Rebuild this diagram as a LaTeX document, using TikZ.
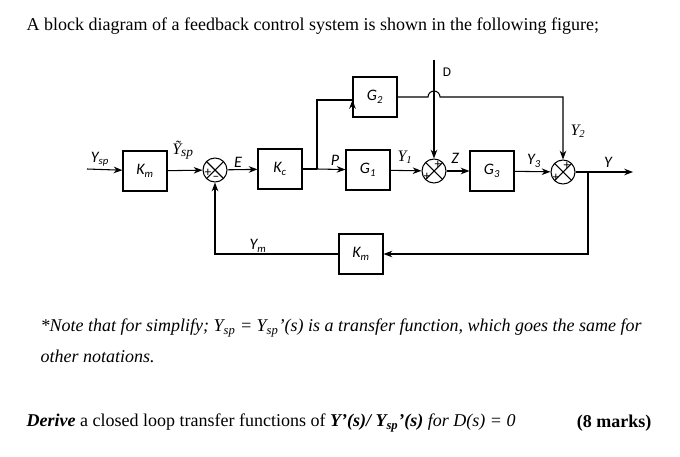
\documentclass[tikz,border=0pt]{standalone}
\usepackage{fontspec}
\setmainfont{Liberation Serif}
\newfontfamily\dgm{Carlito}
\usetikzlibrary{arrows.meta}

\begin{document}
\begin{tikzpicture}[x=0.75pt,y=-0.75pt,
    blk/.style={draw,thick,minimum width=33pt,minimum height=30pt,font=\dgm\itshape\large},
    sum/.style={circle,draw,thick,minimum size=18pt,inner sep=0pt,
        path picture={\draw (path picture bounding box.north west) -- (path picture bounding box.south east)
                            (path picture bounding box.north east) -- (path picture bounding box.south west);}},
    lbl/.style={font=\dgm\itshape\large},
    sgn/.style={font=\dgm,inner sep=0pt},
    >={Stealth[black]}]
\useasboundingbox (0,0) rectangle (680,456);

\node[anchor=west,font=\fontsize{13.5}{16}\selectfont] (title) at (22,26)
    {A block diagram of a feedback control system is shown in the following figure;};

\begin{scope}[every node/.style={blk}]
    \node (km1) at (145,171) {K\textsubscript{m}};
    \node (kc) at (280,169) {K\textsubscript{c}};
    \node (g2) at (375,97) {G\textsubscript{2}};
    \node (g1) at (368,170) {G\textsubscript{1}};
    \node (g3) at (492,171) {G\textsubscript{3}};
    \node (km2) at (361,254) {K\textsubscript{m}};
\end{scope}

\node[sum] (s1) at (215,170) {};
\node[sum] (s2) at (434,171) {};
\node[sum] (s3) at (563,172) {};
\node[sgn] at (208,173) {+};
\node[sgn] at (216,178) {\textendash};
\node[sgn] at (438,165) {+};
\node[sgn] at (427,177) {+};
\node[sgn] at (567,166) {+};
\node[sgn] at (556,178) {+};

\coordinate (in) at (87,169);
\coordinate (br) at (317,169);
\coordinate (dtop) at (434,60);
\coordinate (hop) at (428,97);
\coordinate (ybr) at (588,172);
\coordinate (out) at (633,172);

\begin{scope}[thick]
    \draw[->] (in) -- (km1);
    \draw[->] (km1) -- (s1);
    \draw[->] (s1) -- (kc);
    \draw (kc) -- (br);
    \draw[->] (br) -- (g1);
    \draw[->] (br) |- (g2.west |- 0,100) -- (g2.west |- 0,100);
    \draw[->] (g1) -- (s2);
    \draw[->] (dtop) -- (s2);
    \draw[->] (s2) -- (g3);
    \draw[->] (g3) -- (s3);
    \draw[->] (g2) -- (hop) arc (180:360:6) -| (s3);
    \draw[->] (s3) -- (out);
    \draw[->] (ybr) |- (km2);
    \draw[->] (km2) -| (s1);
\end{scope}

\node[lbl] at (100,159) {Y\textsubscript{sp}};
\node[font=\large\itshape] at (183,150) {\~{Y}\textsubscript{\normalsize sp}};
\node[lbl] at (238,162) {E};
\node[lbl] at (335,160) {P};
\node[font=\large\itshape] at (405,157) {Y\textsubscript{1}};
\node[font=\dgm] at (447,72) {D};
\node[lbl] at (455,158) {Z};
\node[lbl] at (534,161) {Y\textsubscript{3}};
\node[font=\large\itshape] at (578,131) {Y\textsubscript{2}};
\node[lbl] at (608,162) {Y};
\node[lbl] at (258,246) {Y\textsubscript{m}};

\node[anchor=west,font=\fontsize{13.5}{16}\selectfont\itshape] (note1) at (36,328)
    {*Note that for simplify; Y\textsubscript{sp} = Y\textsubscript{sp}'(s) is a transfer function, which goes the same for};
\node[anchor=west,font=\fontsize{13.5}{16}\selectfont\itshape] (note2) at (36,356)
    {other notations.};
\node[anchor=west,font=\fontsize{13.5}{16}\selectfont] (task) at (22,423)
    {\textbf{\textit{Derive}} a closed loop transfer functions of \textbf{\textit{Y'(s)/ Y\textsubscript{sp}'(s)}} \textit{for D(s) = 0}};
\node[anchor=east,font=\fontsize{13.5}{16}\selectfont\bfseries] (marks) at (656,423) {(8 marks)};
\end{tikzpicture}
\end{document}
